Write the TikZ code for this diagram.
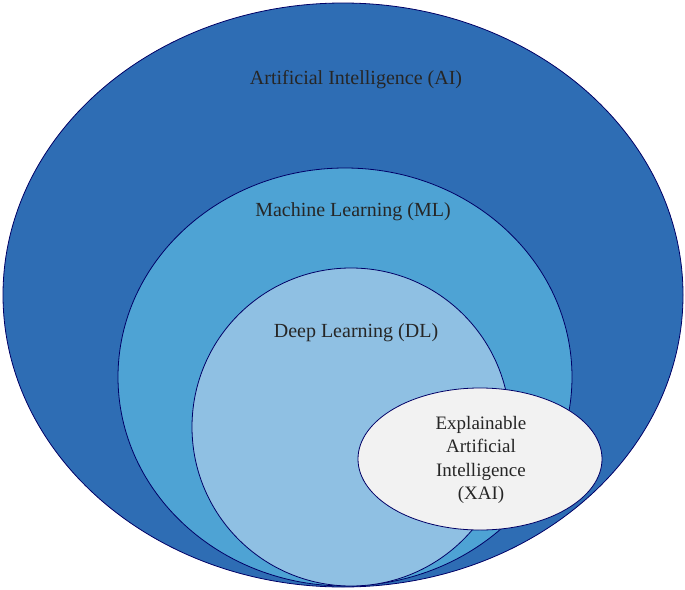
\documentclass[tikz,border=0pt]{standalone}
\usepackage{fontspec}
\setmainfont{Liberation Serif}
\begin{document}
\begin{tikzpicture}[x=1pt,y=-1pt,
  ring/.style={draw=blue!40!black,line width=0.8pt},
  lbl/.style={font=\fontsize{20}{24}\selectfont,text=black!85,align=center}]
\useasboundingbox (0,0) rectangle (685,589);
\fill[ring,fill={rgb,255:red,46;green,109;blue,180}] (343,295) ellipse [x radius=340,y radius=292];
\fill[ring,fill={rgb,255:red,78;green,163;blue,212}] (345,377) ellipse [x radius=227,y radius=209];
\fill[ring,fill={rgb,255:red,143;green,192;blue,227}] (351,427) ellipse [x radius=159,y radius=159];
\fill[ring,fill={rgb,255:red,242;green,242;blue,242}] (480,459) ellipse [x radius=122,y radius=71];
\node[lbl] (ai) at (356,80) {Artificial Intelligence (AI)};
\node[lbl] (ml) at (353,212) {Machine Learning (ML)};
\node[lbl] (dl) at (356,333) {Deep Learning (DL)};
\node[lbl,font=\fontsize{19}{23.5}\selectfont] (xai) at (481,460) {Explainable\\Artificial\\Intelligence\\(XAI)};
\end{tikzpicture}
\end{document}
